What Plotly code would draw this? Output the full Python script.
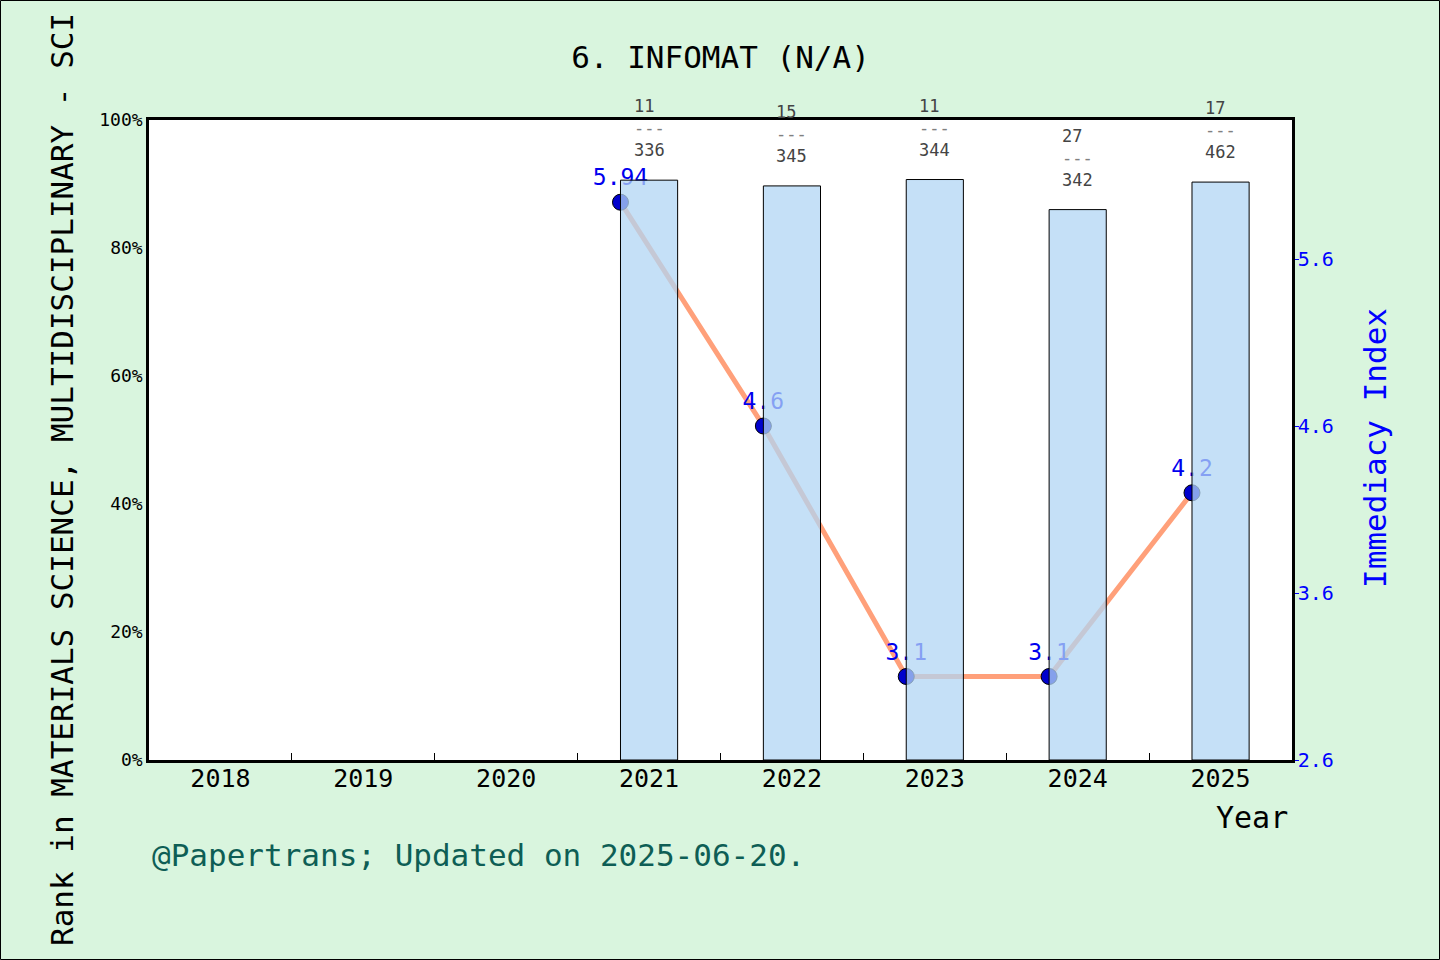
import plotly.graph_objects as go

# ---------------- data ----------------
years = ["2018", "2019", "2020", "2021", "2022", "2023", "2024", "2025"]
bar_years = ["2021", "2022", "2023", "2024", "2025"]
rank_pct = [90.6, 89.7, 90.7, 86.0, 90.3]          # bar heights (%)
rank_num = [11, 15, 11, 27, 17]                     # rank in category
rank_total = [336, 345, 344, 342, 462]              # journals in category
ii_values = [5.94, 4.6, 3.1, 3.1, 4.2]              # immediacy index
ii_labels = ["5.94", "4.6", "3.1", "3.1", "4.2"]
pct_ticks = [0, 20, 40, 60, 80, 100]
pct_ticktext = ["0%", "20%", "40%", "60%", "80%", "100%"]
ii_ticks = [2.6, 3.6, 4.6, 5.6]
ii_ticktext = ["2.6", "3.6", "4.6", "5.6"]

MONO = "DejaVu Sans Mono"
BG = "#D9F5DE"

pos = {y: i for i, y in enumerate(years)}
bar_x = [pos[y] for y in bar_years]
line_x = [pos[y] - 0.2 for y in bar_years]   # points sit at the bars' left edge
boundaries = [i + 0.5 for i in range(len(years) - 1)]

# plot-area geometry (pixels) for placing paper-referenced texts
W, H = 1440, 960
L, R, T, B = 149, 148, 120, 200
PW, PH = W - L - R, H - T - B


def px(x):
    return (x - L) / PW


def py(y):
    return (H - B - y) / PH


fig = go.Figure()

# immediacy index line (main y axis, right side) – drawn below the bars
fig.add_trace(go.Scatter(
    x=line_x, y=ii_values, yaxis="y",
    mode="lines+markers+text",
    line=dict(color="#FFA07A", width=5),
    marker=dict(color="#0000CD", size=16, line=dict(color="black", width=1)),
    text=ii_labels, textposition="top center",
    textfont=dict(family=MONO, size=23, color="#0000EE"),
    showlegend=False, cliponaxis=False,
))

# rank bars (overlay y axis, left side) – drawn on top
fig.add_trace(go.Bar(
    x=bar_x, y=rank_pct, yaxis="y2", width=0.4,
    marker=dict(color="rgba(178,214,244,0.75)", line=dict(color="black", width=1)),
    showlegend=False,
))

annotations = []
for x, v, n, t in zip(bar_x, rank_pct, rank_num, rank_total):
    annotations.append(dict(
        x=x, y=v, xref="x", yref="y2", xanchor="center", yanchor="bottom",
        yshift=18, align="left", showarrow=False,
        text=f"{n}<br><span style='color:#808080'>---</span><br>{t}",
        font=dict(family=MONO, size=17, color="#444444"),
    ))

annotations += [
    dict(x=px(62), y=py(480), xref="paper", yref="paper", textangle=-90,
         text="Rank in MATERIALS SCIENCE, MULTIDISCIPLINARY - SCI",
         showarrow=False, xanchor="center", yanchor="middle",
         font=dict(family=MONO, size=31, color="black")),
    dict(x=px(1375), y=py(448), xref="paper", yref="paper", textangle=-90,
         text="Immediacy Index", showarrow=False, xanchor="center", yanchor="middle",
         font=dict(family=MONO, size=31, color="blue")),
    dict(x=px(1290), y=py(817), xref="paper", yref="paper",
         text="Year", showarrow=False, xanchor="right", yanchor="middle",
         font=dict(family=MONO, size=30, color="black")),
    dict(x=px(150), y=py(855), xref="paper", yref="paper",
         text="@Papertrans; Updated on 2025-06-20.", showarrow=False,
         xanchor="left", yanchor="middle",
         font=dict(family=MONO, size=31, color="#0E5E55")),
]

fig.update_layout(
    width=W, height=H, autosize=False,
    margin=dict(l=L, r=R, t=T, b=B, pad=0),
    paper_bgcolor=BG, plot_bgcolor="white",
    title=dict(text="6. INFOMAT (N/A)", x=0.5, xref="paper", xanchor="center",
               y=1 - 57 / H, yref="container", yanchor="middle",
               font=dict(family=MONO, size=31, color="black")),
    xaxis=dict(range=[-0.5, 7.5], tickvals=list(range(len(years))), ticktext=years,
               ticks="", showline=True, linecolor="black", linewidth=2.5, mirror=True,
               showgrid=False, zeroline=False, ticklabelstandoff=-6,
               tickfont=dict(family=MONO, size=25, color="black"),
               minor=dict(tickvals=boundaries, ticks="inside", ticklen=7,
                          tickwidth=1, tickcolor="black", showgrid=False)),
    yaxis=dict(side="right", range=[2.6, 2.6 + PH / 167.0], tickvals=ii_ticks,
               ticktext=ii_ticktext, ticks="outside", ticklen=4, tickcolor="blue",
               ticklabelstandoff=-5,
               showline=True, linecolor="black", linewidth=2.5,
               showgrid=False, zeroline=False,
               tickfont=dict(family=MONO, size=20, color="blue")),
    yaxis2=dict(overlaying="y", side="left", range=[0, 100], tickvals=pct_ticks,
                ticktext=pct_ticktext, ticks="", showline=True, linecolor="black",
                linewidth=2.5, showgrid=False, zeroline=False,
                tickfont=dict(family=MONO, size=18, color="black")),
    annotations=annotations,
    shapes=[dict(type="rect", xref="paper", yref="paper",
                 x0=px(0.5), x1=px(W - 0.5), y0=py(H - 0.5), y1=py(0.5),
                 line=dict(color="black", width=1), fillcolor="rgba(0,0,0,0)",
                 layer="above")],
)

fig.write_html("out.html")
